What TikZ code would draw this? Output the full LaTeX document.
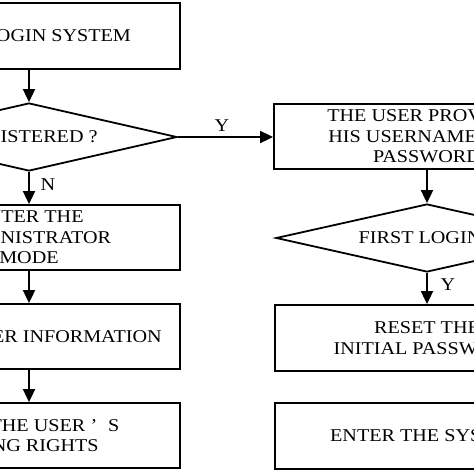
\documentclass[tikz,border=0pt]{standalone}
\usepackage{fontspec}
\setmainfont{Liberation Serif}[FakeStretch=1.12]
\usetikzlibrary{arrows.meta,shapes.geometric}
\tikzset{
  txt/.style={font=\fontsize{18}{20.5}\selectfont},
  box/.style={draw, line width=1.8pt, rectangle, inner sep=0pt, align=center,
    minimum width=302pt, minimum height=65pt, txt},
  decision/.style={draw, line width=1.8pt, diamond, shape aspect=4.4, inner sep=0pt,
    minimum width=296pt, minimum height=68pt, txt},
  flow/.style={line width=1.8pt, -{Triangle[length=13pt,width=12pt]}},
  lbl/.style={txt, inner sep=0pt}
}
\begin{document}
\begin{tikzpicture}[x=1pt,y=-1pt]
\useasboundingbox (0,0) rectangle (474,474);
\clip (0,0) rectangle (474,474);
% left column
\node[box, minimum height=66pt] (B1) at (29,36) {USER LOGIN SYSTEM};
\node[decision] (D1) at (29,137) {REGISTERED ?};
\node[box] (B2) at (29,237.5) {ENTER THE\\ADMINISTRATOR\\MODE};
\node[box] (B3) at (29,336.5) {ENTER USER INFORMATION};
\node[box] (B4) at (29,435.5) {EDIT THE USER\hspace{0.3em}’\hspace{0.6em}S\\USING RIGHTS};
% right column
\node[box, minimum width=306pt] (R1) at (427,136.5) {THE USER PROVIDES\\HIS USERNAME AND\\PASSWORD};
\node[decision, minimum width=302pt] (D2) at (427,238) {FIRST LOGIN ?};
\node[box, minimum width=304pt, minimum height=66pt] (R2) at (427,338) {RESET THE\\INITIAL PASSWORD};
\node[box, minimum width=304pt, minimum height=66pt] (R3) at (427,436) {ENTER THE SYSTEM};
% connectors
\draw[flow] (B1) -- (D1);
\draw[flow] (D1) -- (B2);
\draw[flow] (B2) -- (B3);
\draw[flow] (B3) -- (B4);
\draw[flow] (D1.east) -- (D1.east -| R1.west);
\draw[flow] (R1) -- (D2);
\draw[flow] (D2) -- (R2);
% labels
\node[lbl] (lY1) at (222,126) {Y};
\node[lbl] (lN1) at (48,185) {N};
\node[lbl] (lY2) at (448,285) {Y};
\end{tikzpicture}
\end{document}
